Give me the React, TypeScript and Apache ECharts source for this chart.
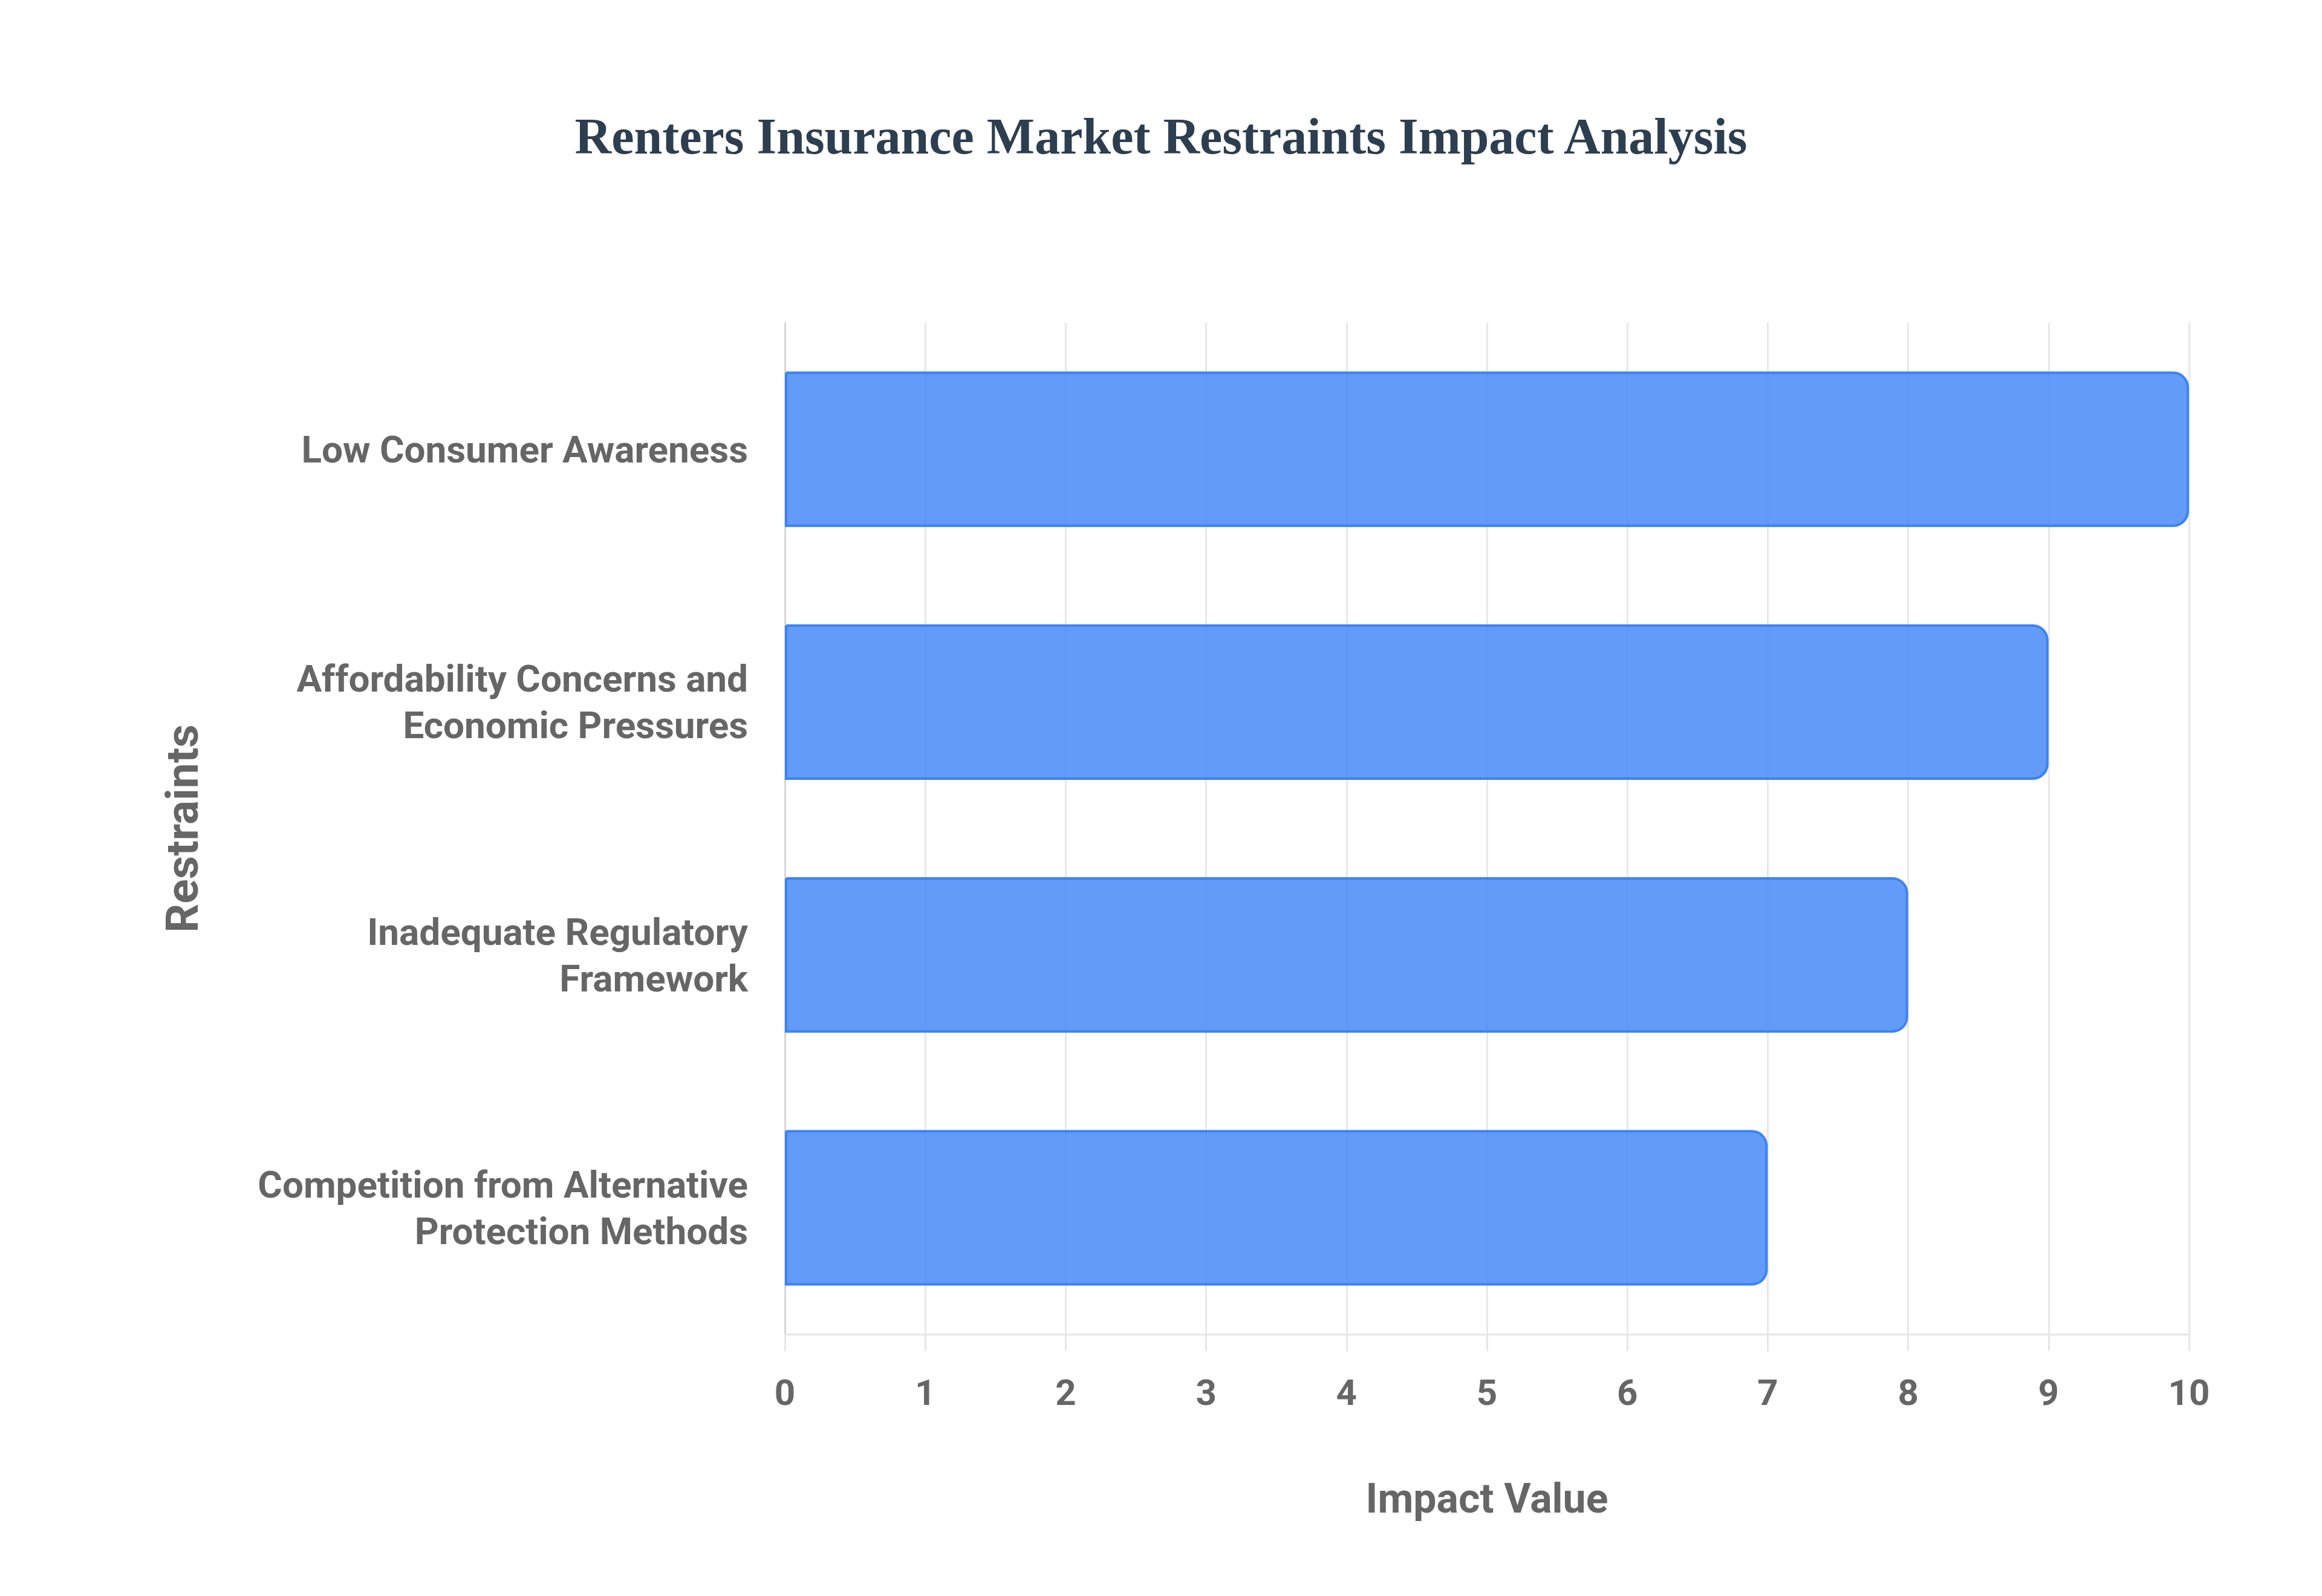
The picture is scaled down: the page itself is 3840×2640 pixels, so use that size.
import React, { useEffect, useRef } from 'react'
import * as echarts from 'echarts'

// top-to-bottom order, as shown in the chart
const restraints = [
  'Low Consumer Awareness',
  'Affordability Concerns and\nEconomic Pressures',
  'Inadequate Regulatory\nFramework',
  'Competition from Alternative\nProtection Methods',
]
const impactValues = [10, 9, 8, 7]

const labelFont = 'Roboto, "Liberation Sans", Arial, sans-serif'

export default function App() {
  const chartRef = useRef<HTMLDivElement>(null)

  useEffect(() => {
    if (!chartRef.current) return
    document.body.style.margin = '0'
    const chart = echarts.init(chartRef.current, null, { renderer: 'svg' })

    const option = {
      animation: false,
      backgroundColor: '#ffffff',
      title: {
        text: 'Renters Insurance Market Restraints Impact Analysis',
        left: 'center',
        top: 178,
        textStyle: {
          fontFamily: '"Liberation Serif", "Times New Roman", serif',
          fontWeight: 'bold',
          fontSize: 84,
          color: '#2c3e50',
        },
      },
      grid: {
        left: 1298,
        right: 220,
        top: 534,
        bottom: 433,
      },
      xAxis: {
        type: 'value',
        min: 0,
        max: 10,
        interval: 1,
        name: 'Impact Value',
        nameLocation: 'middle',
        nameGap: 238,
        nameTextStyle: {
          fontFamily: labelFont,
          fontWeight: 'bold',
          fontSize: 68,
          color: '#666666',
        },
        axisLine: { show: true, lineStyle: { color: '#e6e6e6', width: 3 } },
        axisTick: { show: true, length: 28, lineStyle: { color: '#e6e6e6', width: 3 } },
        splitLine: { show: true, lineStyle: { color: '#e8e8e8', width: 3 } },
        axisLabel: {
          margin: 66,
          fontFamily: labelFont,
          fontWeight: 'bold',
          fontSize: 60,
          color: '#666666',
        },
      },
      yAxis: {
        type: 'category',
        data: restraints,
        inverse: true,
        name: 'Restraints',
        nameLocation: 'middle',
        nameGap: 960,
        nameTextStyle: {
          fontFamily: labelFont,
          fontWeight: 'bold',
          fontSize: 75,
          color: '#666666',
        },
        axisLine: { show: true, lineStyle: { color: '#d6d6d6', width: 3 } },
        axisTick: { show: false },
        splitLine: { show: false },
        axisLabel: {
          margin: 61,
          fontFamily: labelFont,
          fontWeight: 'bold',
          fontSize: 62,
          lineHeight: 77,
          color: '#666666',
        },
      },
      series: [
        {
          type: 'bar',
          data: impactValues,
          barCategoryGap: '38.5%',
          itemStyle: {
            color: 'rgba(59, 130, 246, 0.8)',
            borderColor: '#3b82f6',
            borderWidth: 4,
            borderRadius: [0, 24, 24, 0],
          },
        },
      ],
    }

    chart.setOption(option)

    return () => {
      chart.dispose()
    }
  }, [])

  return <div ref={chartRef} style={{ width: 3840, height: 2640 }} />
}
